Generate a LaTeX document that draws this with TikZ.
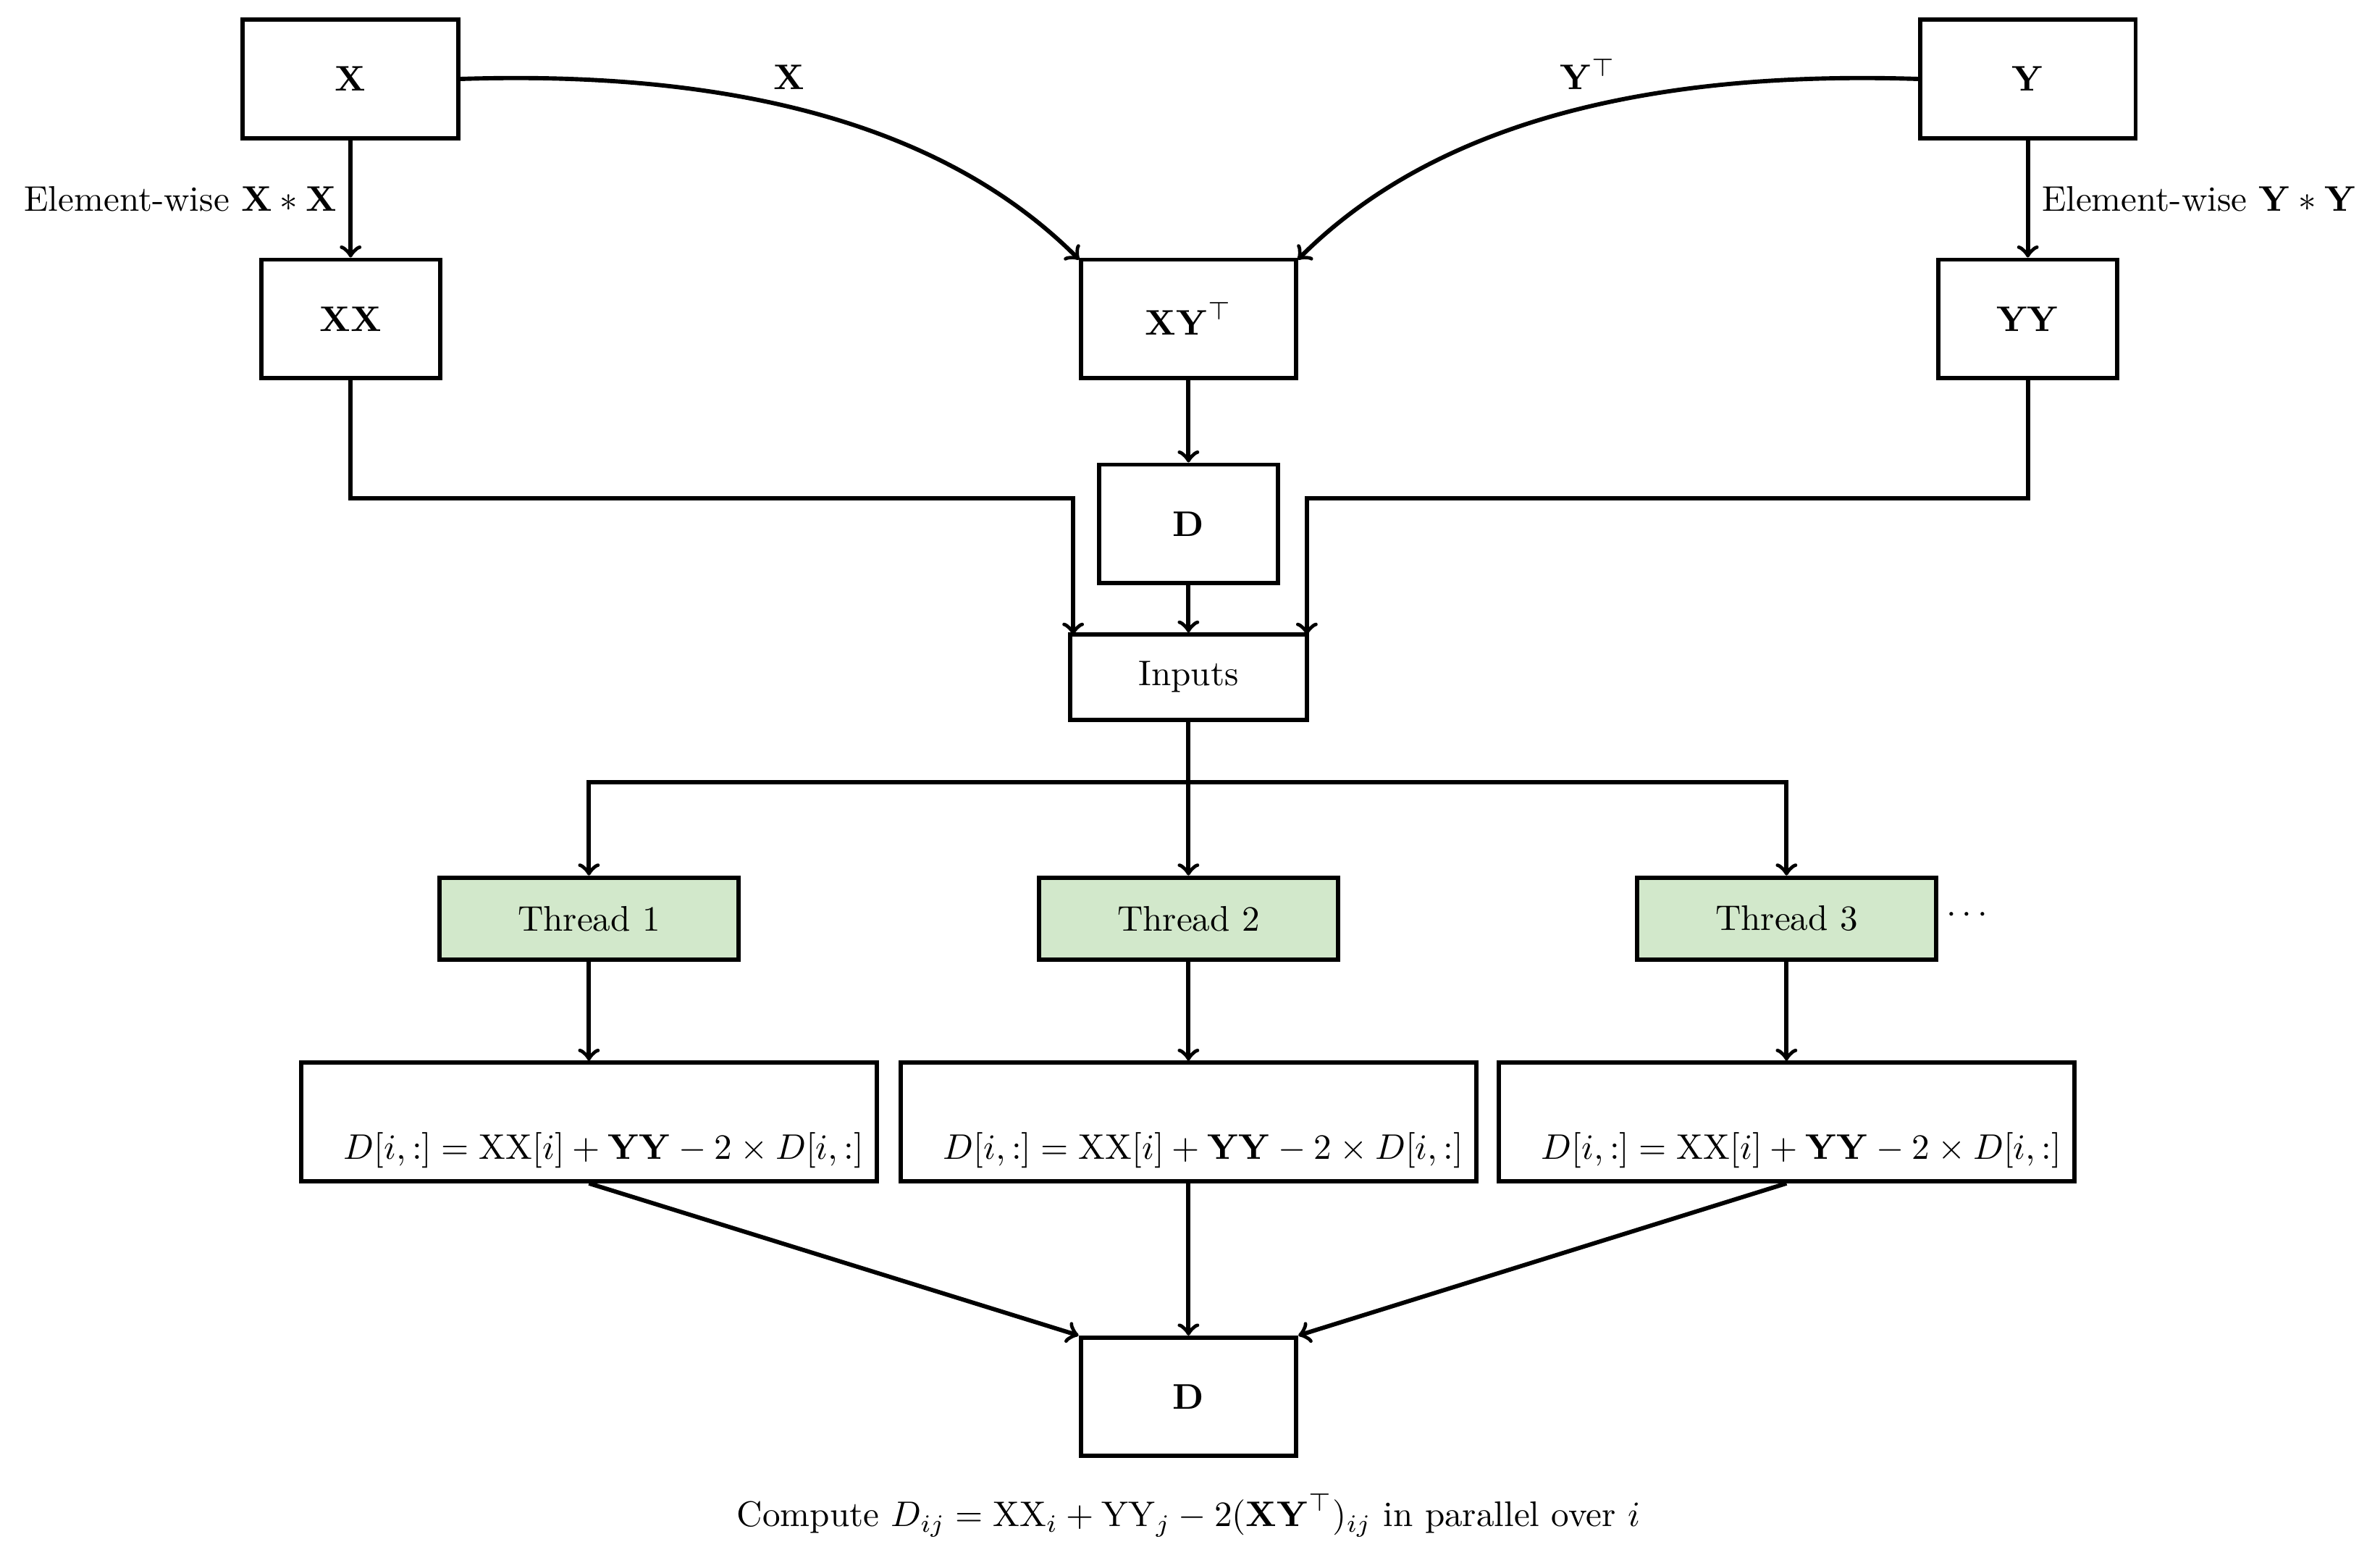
\documentclass[tikz,border=0pt]{standalone}
\usetikzlibrary{arrows}
\definecolor{thread}{HTML}{D2E8CB}
\begin{document}
\begin{tikzpicture}[x=0.015cm,y=-0.015cm,
  box/.style={draw,very thick,minimum width=#1*0.015cm,minimum height=78*0.015cm,inner sep=0pt},
  thr/.style={draw,very thick,fill=thread,minimum width=197*0.015cm,minimum height=54*0.015cm,inner sep=0pt},
  frm/.style={draw,very thick,minimum width=379*0.015cm,minimum height=78*0.015cm,inner sep=0pt},
  conn/.style={very thick,->}]
\useasboundingbox (0,0) rectangle (1568,1024);
\node[box=142] (X) at (231,52) {$\mathbf{X}$};
\node[box=142] (Y) at (1336,52) {$\mathbf{Y}$};
\node[box=118] (XX) at (231,210) {$\mathbf{XX}$};
\node[box=142] (XY) at (783,210) {$\mathbf{XY}^\top$};
\node[box=118] (YY) at (1336,210) {$\mathbf{YY}$};
\node[box=118] (D1) at (783,345) {$\mathbf{D}$};
\node[draw,very thick,minimum width=156*0.015cm,minimum height=56*0.015cm,inner sep=0pt] (In) at (783,446) {Inputs};
\foreach \i/\x in {1/388,2/783,3/1177}{
  \node[thr] (T\i) at (\x,605) {Thread \i};
  \node[frm,label={[anchor=south east,inner sep=4pt]south east:$D[i,:]=\mathrm{XX}[i]+\mathbf{YY}-2\times D[i,:]$}] (F\i) at (\x,739) {};
}
\node (dots) at (1296,603) {$\cdots$};
\node[box=142] (D2) at (783,920) {$\mathbf{D}$};
\node (cap) at (783,998) {Compute $D_{ij}=\mathrm{XX}_i+\mathrm{YY}_j-2(\mathbf{XY}^\top)_{ij}$ in parallel over $i$};
\draw[conn] (X) -- node[left] {Element-wise $\mathbf{X}*\mathbf{X}$} (XX);
\draw[conn] (Y) -- node[right] {Element-wise $\mathbf{Y}*\mathbf{Y}$} (YY);
\coordinate (a1) at (711,171);
\coordinate (a2) at (855,171);
\draw[conn] (X.east) .. controls (520,45) and (640,100) .. node[pos=0.4,above=1pt] {$\mathbf{X}$} (a1);
\draw[conn] (Y.west) .. controls (1046,45) and (926,100) .. node[pos=0.4,above=1pt] {$\mathbf{Y}^\top$} (a2);
\draw[conn] (XY) -- (D1);
\draw[conn] (D1) -- (In);
\draw[conn] (XX.south) |- (707,328) -- (707,418);
\draw[conn] (YY.south) |- (861,328) -- (861,418);
\coordinate (br) at (783,515);
\draw[very thick] (In.south) -- (br);
\draw[conn] (br) -| (T1.north);
\draw[conn] (br) -| (T3.north);
\draw[conn] (br) -- (T2.north);
\foreach \i in {1,2,3}{\draw[conn] (T\i) -- (F\i);}
\draw[conn] (F1.south) -- (D2.north west);
\draw[conn] (F2.south) -- (D2.north);
\draw[conn] (F3.south) -- (D2.north east);
\end{tikzpicture}
\end{document}
